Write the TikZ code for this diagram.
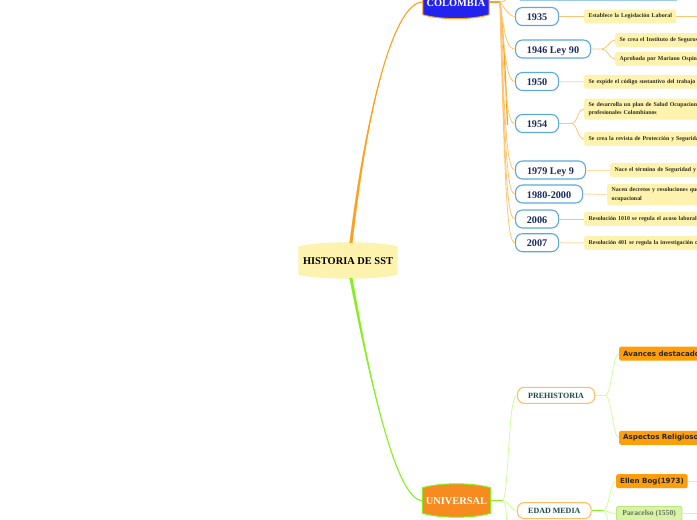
\documentclass[tikz,border=0pt]{standalone}
\usepackage{fontspec}
\setmainfont{Liberation Serif}
\newfontfamily\verdanaish{DejaVu Sans}
\usetikzlibrary{backgrounds}
\definecolor{histfill}{HTML}{FDF3AE}
\definecolor{colblue}{HTML}{2323EE}
\definecolor{colline}{HTML}{FF9F1C}
\definecolor{colbranch}{HTML}{FFC46B}
\definecolor{colpale}{HTML}{FFDDA8}
\definecolor{uniorange}{HTML}{F78B1F}
\definecolor{unigreen}{HTML}{86F01E}
\definecolor{unipale}{HTML}{CCFF99}
\definecolor{yearblue}{HTML}{5CA9DE}
\definecolor{yeartext}{HTML}{1B2A5C}
\definecolor{erasedge}{HTML}{FFBE66}
\definecolor{erastext}{HTML}{1C4B4B}
\definecolor{notefill}{HTML}{FDF3AE}
\definecolor{notetext}{HTML}{2E2C1C}
\definecolor{hotfill}{HTML}{FF9E0B}
\definecolor{greenfill}{HTML}{D8F2A6}
\definecolor{greenedge}{HTML}{B9E57C}
\definecolor{greentext}{HTML}{66755A}
\newcommand{\barrel}[3]{%
	\begin{scope}[on background layer]
	\draw[fill=#2,draw=#3,line width=1pt]
	([yshift=-4pt]#1.north west)
	.. controls ([xshift=18pt,yshift=1.3pt]#1.north west) and ([xshift=-18pt,yshift=1.3pt]#1.north east) .. ([yshift=-4pt]#1.north east)
	-- ([yshift=4pt]#1.south east)
	.. controls ([xshift=-18pt,yshift=-1.3pt]#1.south east) and ([xshift=18pt,yshift=-1.3pt]#1.south west) .. ([yshift=4pt]#1.south west)
	-- cycle;
	\end{scope}}
\begin{document}
\begin{tikzpicture}[
	x=1pt, y=-1pt,
	bignode/.style = {rectangle, inner sep=0pt, text height=8.3pt, text depth=0pt,
		font=\fontsize{10.4}{12}\selectfont\bfseries},
	year/.style = {rectangle, draw=yearblue, fill=white, line width=1.1pt, rounded corners=7pt,
		minimum height=18pt, inner xsep=0pt, inner ysep=0pt, anchor=west, text=yeartext,
		text height=8.4pt, text depth=0pt,
		font=\fontsize{10.2}{12}\selectfont\bfseries},
	note/.style = {rectangle, fill=notefill, rounded corners=2pt, anchor=west, align=left,
		minimum height=13.7pt, inner xsep=4.5pt, inner ysep=0pt, text=notetext,
		font=\fontsize{5.9}{8.2}\selectfont\bfseries},
	era/.style = {rectangle, draw=erasedge, fill=white, line width=1.1pt, rounded corners=6.5pt,
		minimum height=16pt, inner xsep=0pt, inner ysep=0pt, anchor=west, text=erastext,
		text height=6.4pt, text depth=0pt,
		font=\fontsize{8}{10}\selectfont\bfseries},
	hot/.style = {rectangle, fill=hotfill, rounded corners=2pt, anchor=west, align=left, text=black!85,
		minimum height=14pt, inner xsep=4pt, inner ysep=0pt,
		font=\verdanaish\fontsize{7.1}{8}\selectfont\bfseries},
	main/.style = {line width=1.1pt},
	taper/.style = {line width=0.2pt},
	branch/.style = {colbranch, line width=0.8pt},
	stub/.style = {colline, line width=1.6pt},
	leaf/.style = {colpale, line width=1pt},
	unibranch/.style = {unipale, line width=0.8pt},
	unistub/.style = {unigreen, line width=1.4pt},
	]
	\useasboundingbox (0,0) rectangle (697,520);

	% centre and the two big branches
	\node[bignode, minimum width=98pt, minimum height=35pt] (hist) at (348,260.5) {HISTORIA DE SST};
	\node[bignode, minimum width=66pt, minimum height=33pt, text=white] (colombia) at (456,2) {COLOMBIA};
	\node[bignode, minimum width=68pt, minimum height=33pt, text=white] (universal) at (456.5,500.5) {UNIVERSAL};
	\barrel{hist}{histfill}{histfill}
	\barrel{colombia}{colblue}{colline}
	\barrel{universal}{uniorange}{unigreen}

	\draw[main, colline] ([xshift=3pt]hist.north) .. controls (368,100) and (395,2) .. (colombia.west);
	\draw[main, unigreen] ([xshift=3pt]hist.south) .. controls (368,370) and (395,500.5) .. (universal.west);
	\filldraw[taper, colline] ([xshift=1.6pt]hist.north) .. controls (358.5,171.3) and (370.2,111.2) .. (382.9,68.9)
	.. controls (370.8,111.3) and (360.5,171.7) .. ([xshift=4.4pt]hist.north) -- cycle;
	\filldraw[taper, unigreen] ([xshift=1.6pt]hist.south) .. controls (358.5,324.2) and (370.2,379.7) .. (382.8,423.75)
	.. controls (370.8,379.5) and (360.5,323.8) .. ([xshift=4.4pt]hist.south) -- cycle;

	% years
	\node[draw=yearblue!60, line width=1pt, fill=white, minimum width=156pt, minimum height=17pt] (ytop) at (598,-8) {};
	\node[year, minimum width=43pt] (y1935) at (515,16.5) {1935};
	\node[year, minimum width=75pt] (y1946) at (515,49) {1946 Ley 90};
	\node[year, minimum width=43pt] (y1950) at (515,81.5) {1950};
	\node[year, minimum width=43pt] (y1954) at (515,123.5) {1954};
	\node[year, minimum width=70pt] (y1979) at (515,170) {1979 Ley 9};
	\node[year, minimum width=67pt] (y1980) at (515,194) {1980-2000};
	\node[year, minimum width=43pt] (y2006) at (515,219) {2006};
	\node[year, minimum width=43pt] (y2007) at (515,242.7) {2007};

	\coordinate (trunkend) at (507.5,125);
	\draw[stub] (colombia.east) -- (500,2);
	\draw[stub, line width=1.2pt] (500,2) .. controls (503,30) and (505,60) .. (trunkend);
	\foreach \yr/\drop in {y1946/38, y1950/62, y1954/100, y1979/140, y1980/160, y2006/185, y2007/205}
	\draw[branch] (500,2) .. controls +(5,\drop) and +(-7,0) .. (\yr.west);
	\draw[branch] (500,2) .. controls +(4,5) and +(-6,0) .. (y1935.west);
	\draw[branch] (500,2) .. controls +(5,0) and +(-4,0) .. (ytop.west);

	% notes of the years
	\node[note, text width=83pt] (n1935) at (584,16.5) {\mbox{Establece la Legislación Laboral}};
	\node[note, text width=120pt] (n1946a) at (615,40) {Se crea el Instituto de Seguros};
	\node[note, text width=120pt] (n1946b) at (615,59) {Aprobada por Mariano Ospina};
	\node[note, text width=130pt] (n1950) at (584,81.8) {Se expide el código sustantivo del trabajo};
	\node[note, text width=130pt, minimum height=21pt] (n1954a) at (584,109.2) {Se desarrolla un plan de Salud Ocupacional\\profesionales Colombianos};
	\node[note, text width=130pt] (n1954b) at (584,139) {Se crea la revista de Protección y Seguridad};
	\node[note, text width=110pt] (n1979) at (610,170) {Nace el término de Seguridad y};
	\node[note, text width=110pt, minimum height=21pt] (n1980) at (607,194.5) {Nacen decretos y resoluciones que\\ocupacional};
	\node[note, text width=130pt] (n2006) at (584,219) {Resolución 1010 se regula el acoso laboral};
	\node[note, text width=130pt] (n2007) at (584,243) {Resolución 401 se regula la investigación de};

	\coordinate (n1935end) at (700,16.5);
	\draw[branch, line width=1pt] (y1935.east) -- (n1935.west);
	\draw[branch, line width=1pt] (n1935.east) -- (n1935end);
	\draw[branch] (y1946.east) -- (602,49) .. controls +(6,0) and +(-6,0) .. (n1946a.west);
	\draw[branch] (602,49) .. controls +(6,0) and +(-6,0) .. (n1946b.west);
	\draw[branch] (y1954.east) -- (571,123.5) .. controls +(7,0) and +(-7,0) .. (n1954a.west);
	\draw[branch] (571,123.5) .. controls +(7,0) and +(-7,0) .. (n1954b.west);
	\draw[leaf] (y1950.east) -- (n1950.west);
	\draw[leaf] (y1979.east) -- (n1979.west);
	\draw[leaf] (y1980.east) -- (n1980.west);
	\draw[branch, line width=1pt] (y2006.east) -- (n2006.west);
	\draw[leaf] (y2007.east) -- (n2007.west);

	% universal side
	\node[era, minimum width=77pt] (prehist) at (517,395.3) {PREHISTORIA};
	\node[era, minimum width=73.5pt] (edad) at (517,510.6) {EDAD MEDIA};
	\node[hot, text width=100pt] (avances) at (619,353.7) {Avances destacados};
	\node[hot, text width=100pt] (aspectos) at (619,437.8) {Aspectos Religiosos};
	\node[hot, text width=63.5pt] (ellen) at (616,481.2) {\mbox{Ellen Bog(1973)}};
	\node[rectangle, fill=greenfill, draw=greenedge, line width=0.8pt, rounded corners=2pt, anchor=west,
		minimum width=65.5pt, minimum height=14pt, inner sep=0pt, text=greentext,
		font=\fontsize{7.6}{9}\selectfont\bfseries] (paracelso) at (616,513.5) {Paracelso (1550)};

	\coordinate (unidown) at (507,530);
	\coordinate (edaddown) at (608,530);
	\coordinate (ellenend) at (700,481.2);
	\coordinate (paracelsoend) at (700,513.5);

	\draw[unistub] (universal.east) -- (503,500.5);
	\draw[unibranch] (503,500.5) .. controls +(6,-10) and +(-9,0) .. (prehist.west);
	\draw[unibranch] (503,500.5) .. controls +(6,1) and +(-6,0) .. (edad.west);
	\draw[unibranch] (503,500.5) .. controls +(3,5) .. (unidown);
	\draw[unistub, unipale] (prehist.east) -- (606,395.3);
	\draw[unibranch] (606,395.3) .. controls +(6,-5) and +(-6,0) .. (avances.west);
	\draw[unibranch] (606,395.3) .. controls +(6,5) and +(-6,0) .. (aspectos.west);
	\draw[unistub] (edad.east) -- (604,510.6);
	\draw[unibranch] (604,510.6) .. controls +(6,-5) and +(-6,0) .. (ellen.west);
	\draw[unibranch] (604,510.6) .. controls +(6,1) and +(-6,0) .. (paracelso.west);
	\draw[unibranch] (604,510.6) .. controls +(3,3) .. (edaddown);
	\draw[unibranch] (ellen.east) -- (ellenend);
	\draw[unibranch] (paracelso.east) -- (paracelsoend);
\end{tikzpicture}
\end{document}
